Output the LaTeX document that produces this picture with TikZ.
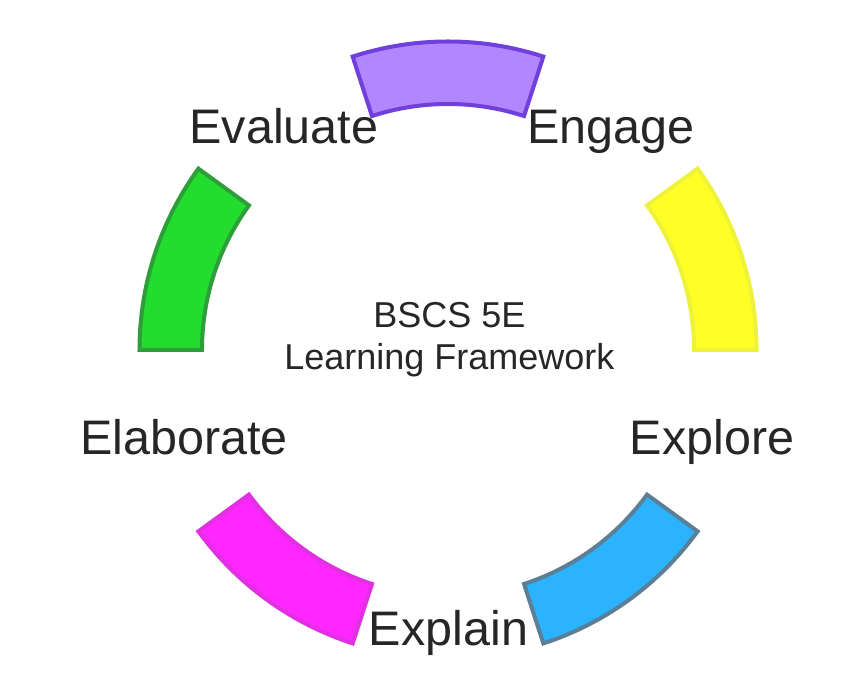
\documentclass[tikz,border=0pt]{standalone}
\usepackage{fontspec}
\setmainfont{Liberation Sans}
\definecolor{txt}{HTML}{262626}
\definecolor{pl}{HTML}{7040DC}\definecolor{pf}{HTML}{B385FF}
\definecolor{yl}{HTML}{EEF23A}\definecolor{yf}{HTML}{FFFF26}
\definecolor{bl}{HTML}{5A7F96}\definecolor{bf}{HTML}{2BB3FF}
\definecolor{ml}{HTML}{E030E0}\definecolor{mf}{HTML}{FF26FF}
\definecolor{gl}{HTML}{2E9E3A}\definecolor{gf}{HTML}{22DD2E}
\tikzset{
  seg/.style={line width=4pt,line join=miter},
  big/.style={text=txt,font=\fontsize{48.5}{54}\selectfont,inner sep=0pt,anchor=base},
  mid/.style={text=txt,font=\fontsize{36}{42}\selectfont,inner sep=0pt,align=center}
}
\newcommand{\ring}[4]{%
  \draw[seg,draw=#3,fill=#4] (#1:308.5) arc[start angle=#1,end angle=#2,radius=308.5] -- (#2:246) arc[start angle=#2,end angle=#1,radius=246] -- cycle;}
\begin{document}
\begin{tikzpicture}[x=1pt,y=1pt]
\useasboundingbox (0,0) rectangle (845,699);
\fill[white] (0,0) rectangle (845,699);
\begin{scope}[shift={(448,349)}]
\ring{72}{108}{pl}{pf}
\ring{0}{36}{yl}{yf}
\ring{-72}{-36}{bl}{bf}
\ring{-144}{-108}{ml}{mf}
\ring{144}{180}{gl}{gf}
\end{scope}
\node[big] (evaluate) at (284,555) {Evaluate};
\node[big] (engage) at (611,555) {Engage};
\node[big] (explore) at (712,244) {Explore};
\node[big] (explain) at (448.5,54) {Explain};
\node[big] (elaborate) at (184,244) {Elaborate};
\node[mid] (title) at (449.5,359) {BSCS 5E\\Learning Framework};
\end{tikzpicture}
\end{document}
